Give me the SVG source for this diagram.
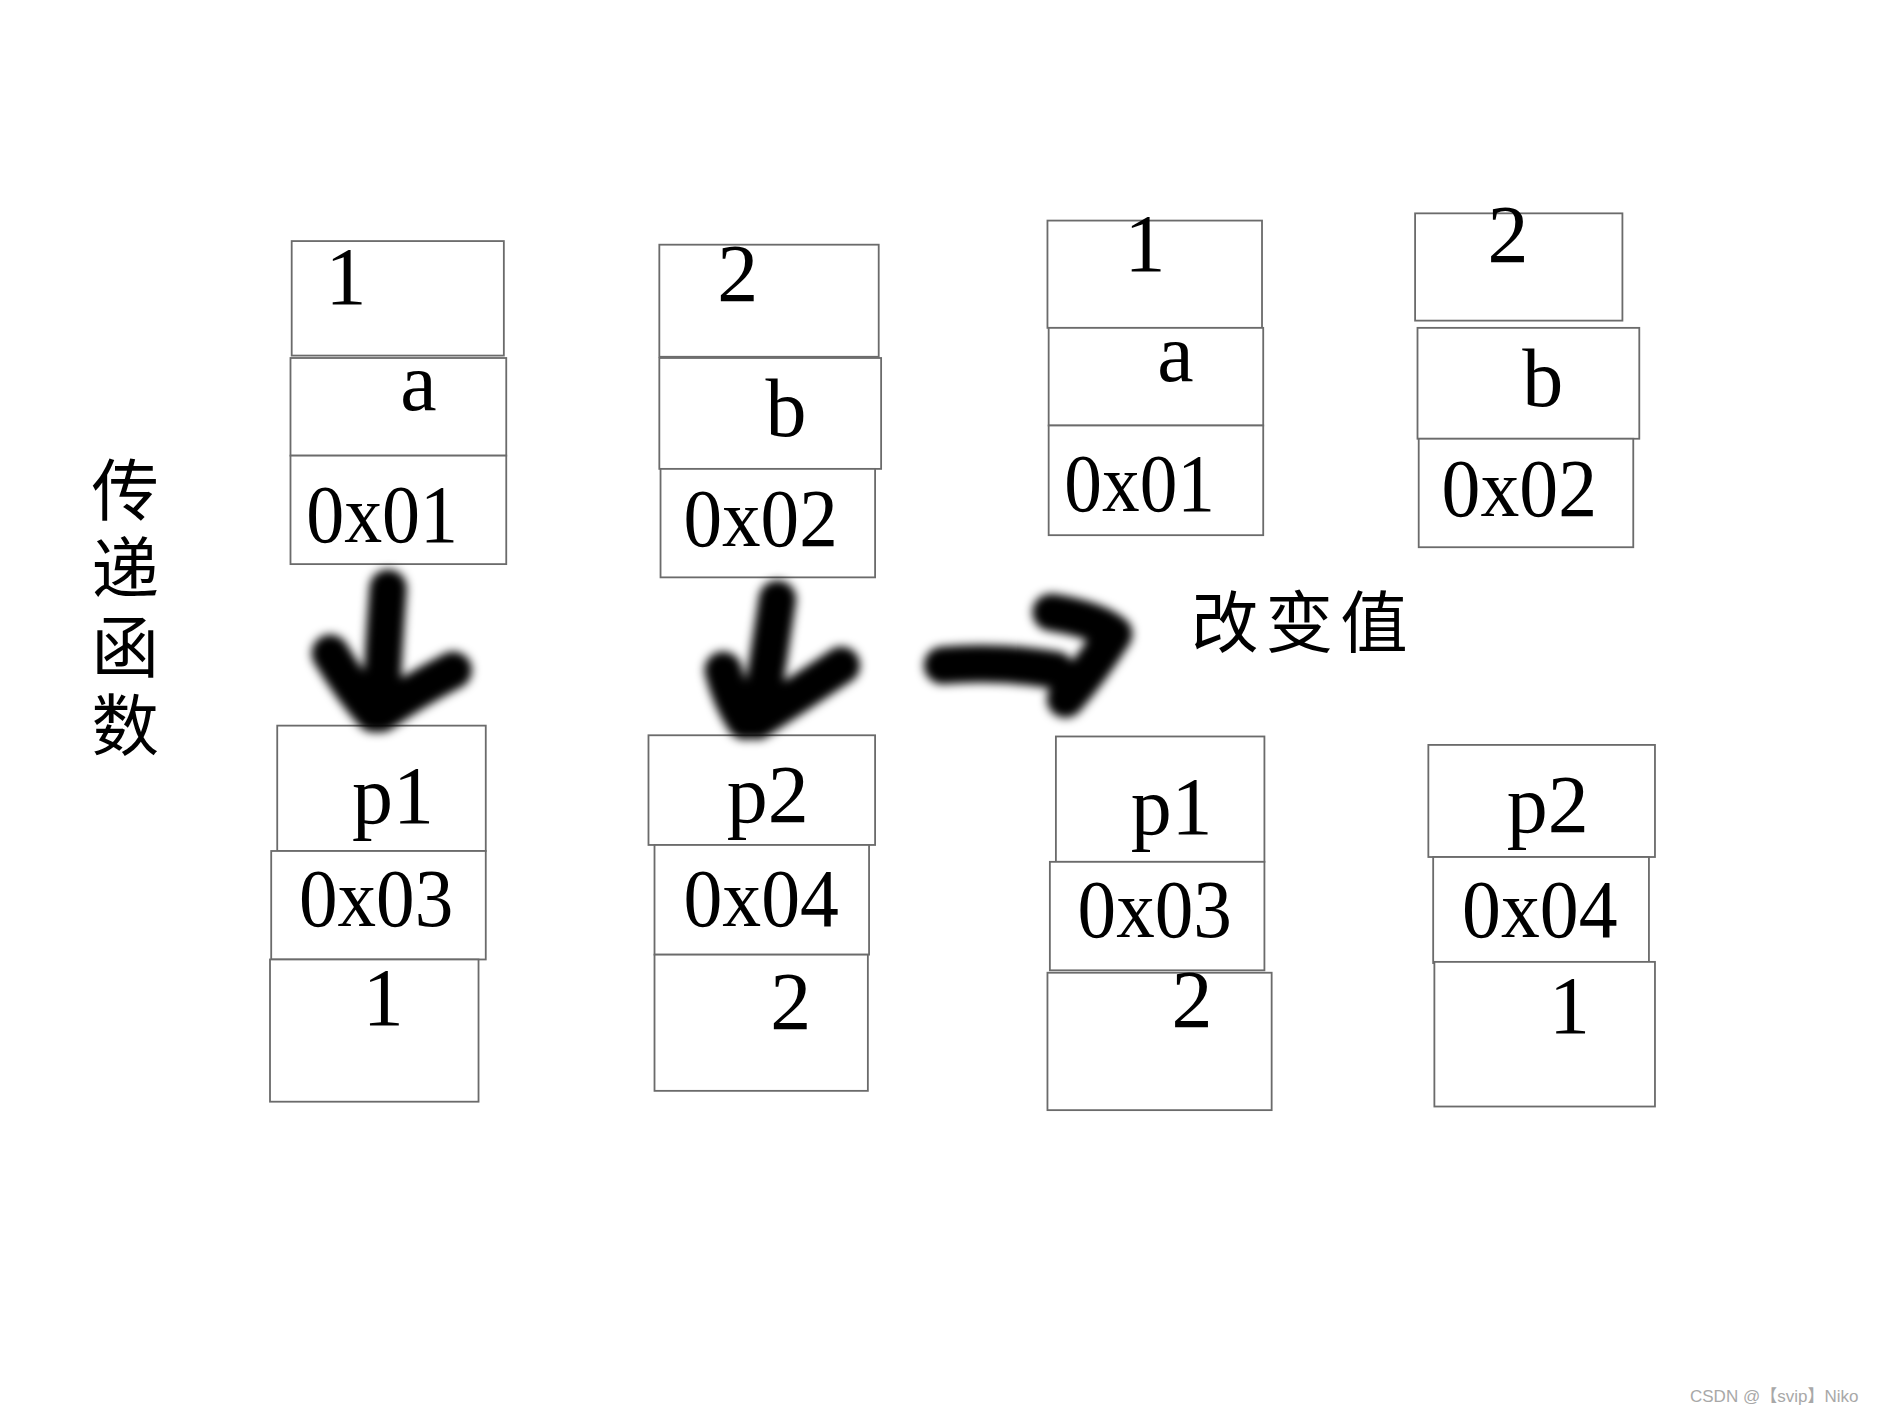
<svg xmlns="http://www.w3.org/2000/svg" width="1890" height="1417" viewBox="0 0 1890 1417">
<defs>
<style>
.box{fill:#fff;stroke:#6b6b6b;stroke-width:1.5}
.t{font-family:"Liberation Serif","Noto Sans CJK SC",serif;font-size:68px;fill:#000}
.cjk{font-family:"Noto Sans CJK SC",sans-serif;font-size:56px;fill:#000}
.brush{fill:none;stroke:#000;stroke-width:31;stroke-linecap:round;stroke-linejoin:round}
.wm{font-family:"Liberation Sans","Noto Sans CJK SC",sans-serif;font-size:17px;fill:#a8a8a8}
</style>
<filter id="blur" x="-30%" y="-30%" width="160%" height="160%"><feGaussianBlur stdDeviation="4"/></filter>
</defs>
<rect width="1890" height="1417" fill="#fff"/>
<g transform="scale(1.20536)">
<g id="label-pass">
<text class="cjk" x="104" y="378" style="writing-mode:vertical-rl" letter-spacing="9">传递函数</text>
</g>
<g id="label-change"><text class="cjk" x="988" y="537" letter-spacing="6">改变值</text></g>

<g id="top1">
<rect class="box" x="242" y="200" width="176" height="95"/>
<rect class="box" x="241" y="297" width="179" height="81"/>
<rect class="box" x="241" y="378" width="179" height="90"/>
<text class="t" x="270" y="252">1</text>
<text class="t" x="332" y="340">a</text>
<text class="t" x="254" y="450" textLength="126" lengthAdjust="spacingAndGlyphs">0x01</text>
</g>
<g id="top2">
<rect class="box" x="547" y="203" width="182" height="93"/>
<rect class="box" x="547" y="297" width="184" height="92"/>
<rect class="box" x="548" y="389" width="178" height="90"/>
<text class="t" x="595" y="250">2</text>
<text class="t" x="635" y="362">b</text>
<text class="t" x="567" y="453" textLength="128" lengthAdjust="spacingAndGlyphs">0x02</text>
</g>
<g id="top3">
<rect class="box" x="869" y="183" width="178" height="89"/>
<rect class="box" x="870" y="272" width="178" height="81"/>
<rect class="box" x="870" y="353" width="178" height="91"/>
<text class="t" x="933" y="225">1</text>
<text class="t" x="960" y="316">a</text>
<text class="t" x="883" y="424" textLength="125" lengthAdjust="spacingAndGlyphs">0x01</text>
</g>
<g id="top4">
<rect class="box" x="1174" y="177" width="172" height="89"/>
<rect class="box" x="1176" y="272" width="184" height="92"/>
<rect class="box" x="1177" y="364" width="178" height="90"/>
<text class="t" x="1234" y="217">2</text>
<text class="t" x="1263" y="337">b</text>
<text class="t" x="1196" y="428" textLength="129" lengthAdjust="spacingAndGlyphs">0x02</text>
</g>

<g id="bot1">
<rect class="box" x="230" y="602" width="173" height="104"/>
<rect class="box" x="225" y="706" width="178" height="90"/>
<rect class="box" x="224" y="796" width="173" height="118"/>
<text class="t" x="292" y="683">p1</text>
<text class="t" x="248" y="768" textLength="128" lengthAdjust="spacingAndGlyphs">0x03</text>
<text class="t" x="301" y="850">1</text>
</g>
<g id="bot2">
<rect class="box" x="538" y="610" width="188" height="91"/>
<rect class="box" x="543" y="701" width="178" height="91"/>
<rect class="box" x="543" y="792" width="177" height="113"/>
<text class="t" x="603" y="682">p2</text>
<text class="t" x="567" y="768" textLength="129" lengthAdjust="spacingAndGlyphs">0x04</text>
<text class="t" x="639" y="854">2</text>
</g>
<g id="bot3">
<rect class="box" x="876" y="611" width="173" height="104"/>
<rect class="box" x="871" y="715" width="178" height="90"/>
<rect class="box" x="869" y="807" width="186" height="114"/>
<text class="t" x="938" y="692">p1</text>
<text class="t" x="894" y="777" textLength="128" lengthAdjust="spacingAndGlyphs">0x03</text>
<text class="t" x="972" y="852">2</text>
</g>
<g id="bot4">
<rect class="box" x="1185" y="618" width="188" height="93"/>
<rect class="box" x="1189" y="711" width="179" height="88"/>
<rect class="box" x="1190" y="798" width="183" height="120"/>
<text class="t" x="1250" y="690">p2</text>
<text class="t" x="1213" y="777" textLength="129" lengthAdjust="spacingAndGlyphs">0x04</text>
<text class="t" x="1285" y="857">1</text>
</g>

<g id="connectors" filter="url(#blur)">
<path class="brush" d="M322,488 Q318,540 316,588 M274,542 Q292,572 310,592 M376,556 Q345,572 316,592"/>
<path class="brush" d="M645,497 Q638,545 630,592 M600,556 Q606,580 618,598 M698,552 Q664,575 628,598"/>
<path class="brush" d="M782,552 Q830,548 876,556 M872,508 Q910,514 924,526 Q905,556 884,580"/>
</g>
</g>
<text class="wm" x="1690" y="1402">CSDN @【svip】Niko</text>
</svg>
